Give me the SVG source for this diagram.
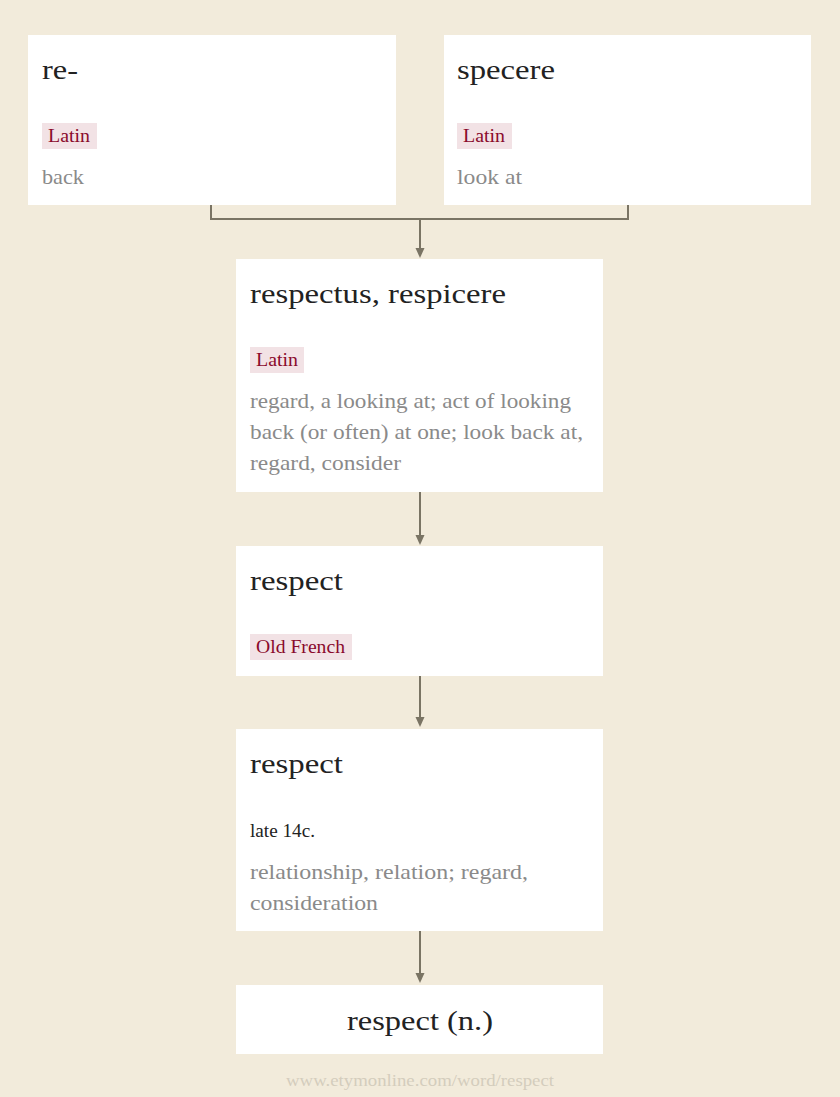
<svg xmlns="http://www.w3.org/2000/svg" width="840" height="1097" viewBox="0 0 840 1097">
<defs>
<style>
.box{fill:#ffffff}
.title{font-family:"Liberation Serif",Georgia,serif;font-size:28px;fill:#222222}
.tagbg{fill:#f2e2e5}
.tag{font-family:"Liberation Serif",Georgia,serif;font-size:18px;fill:#8a0a2c}
.desc{font-family:"Liberation Serif",Georgia,serif;font-size:22px;fill:#8a8a8a}
.date{font-family:"Liberation Serif",Georgia,serif;font-size:18px;fill:#222222}
.conn{fill:none;stroke:#7a7464;stroke-width:2}
.head{fill:#7a7464}
.foot{font-family:"Liberation Serif",Georgia,serif;font-size:17px;fill:#d4cdbd}
</style>
</defs>
<rect x="0" y="0" width="840" height="1097" fill="#f2ebdb"/>
<g id="connectors">
<path class="conn" d="M211,205 V219 H628 V205"/>
<path class="conn" d="M420,219 V250"/>
<path class="head" d="M415.5,248 L424.5,248 L420,258 Z"/>
<path class="conn" d="M420,492 V537"/>
<path class="head" d="M415.5,535 L424.5,535 L420,545 Z"/>
<path class="conn" d="M420,676 V719"/>
<path class="head" d="M415.5,717 L424.5,717 L420,727 Z"/>
<path class="conn" d="M420,931 V975"/>
<path class="head" d="M415.5,973 L424.5,973 L420,983 Z"/>
</g>
<g id="node-re">
<rect class="box" x="28" y="35" width="368" height="170"/>
<text class="title" x="42" y="79" textLength="36" lengthAdjust="spacingAndGlyphs">re-</text>
<rect class="tagbg" x="42" y="123" width="55" height="26"/>
<text class="tag" x="48" y="142" textLength="42" lengthAdjust="spacingAndGlyphs">Latin</text>
<text class="desc" x="42" y="184" textLength="42" lengthAdjust="spacingAndGlyphs">back</text>
</g>
<g id="node-specere">
<rect class="box" x="444" y="35" width="367" height="170"/>
<text class="title" x="457" y="79" textLength="98" lengthAdjust="spacingAndGlyphs">specere</text>
<rect class="tagbg" x="457" y="123" width="55" height="26"/>
<text class="tag" x="463" y="142" textLength="42" lengthAdjust="spacingAndGlyphs">Latin</text>
<text class="desc" x="457" y="184" textLength="65" lengthAdjust="spacingAndGlyphs">look at</text>
</g>
<g id="node-respectus">
<rect class="box" x="236" y="259" width="367" height="233"/>
<text class="title" x="250" y="303" textLength="256" lengthAdjust="spacingAndGlyphs">respectus, respicere</text>
<rect class="tagbg" x="250" y="347" width="54" height="26"/>
<text class="tag" x="256" y="366" textLength="42" lengthAdjust="spacingAndGlyphs">Latin</text>
<text class="desc" x="250" y="408" textLength="321" lengthAdjust="spacingAndGlyphs">regard, a looking at; act of looking</text>
<text class="desc" x="250" y="439" textLength="333" lengthAdjust="spacingAndGlyphs">back (or often) at one; look back at,</text>
<text class="desc" x="250" y="470" textLength="151" lengthAdjust="spacingAndGlyphs">regard, consider</text>
</g>
<g id="node-respect-of">
<rect class="box" x="236" y="546" width="367" height="130"/>
<text class="title" x="250" y="590" textLength="93" lengthAdjust="spacingAndGlyphs">respect</text>
<rect class="tagbg" x="250" y="634" width="102" height="26"/>
<text class="tag" x="256" y="653" textLength="89" lengthAdjust="spacingAndGlyphs">Old French</text>
</g>
<g id="node-respect-me">
<rect class="box" x="236" y="729" width="367" height="202"/>
<text class="title" x="250" y="773" textLength="93" lengthAdjust="spacingAndGlyphs">respect</text>
<text class="date" x="250" y="837" textLength="65" lengthAdjust="spacingAndGlyphs">late 14c.</text>
<text class="desc" x="250" y="879" textLength="278" lengthAdjust="spacingAndGlyphs">relationship, relation; regard,</text>
<text class="desc" x="250" y="910" textLength="128" lengthAdjust="spacingAndGlyphs">consideration</text>
</g>
<g id="node-respect-n">
<rect class="box" x="236" y="985" width="367" height="69"/>
<text class="title" x="347" y="1030" textLength="146" lengthAdjust="spacingAndGlyphs">respect (n.)</text>
</g>
<text class="foot" x="286" y="1086" textLength="268" lengthAdjust="spacingAndGlyphs">www.etymonline.com/word/respect</text>
</svg>
